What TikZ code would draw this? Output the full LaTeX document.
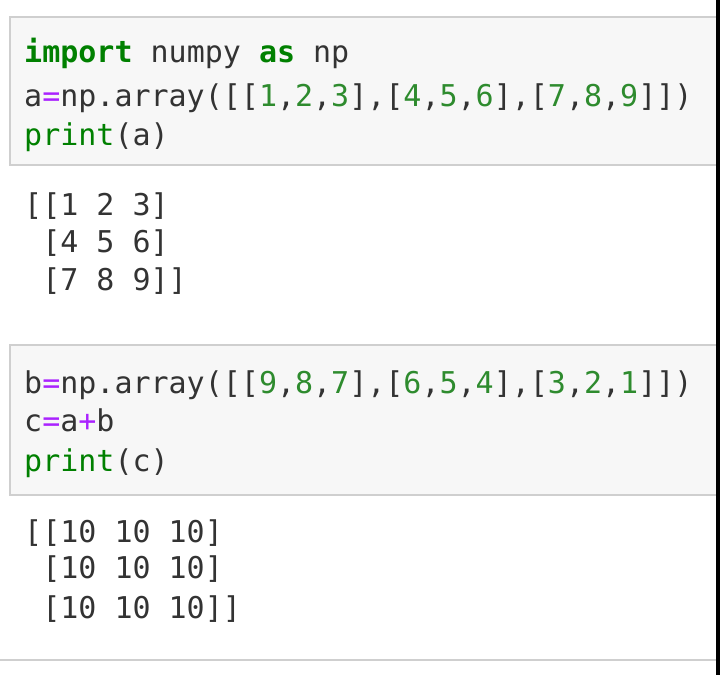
\documentclass[tikz,border=0pt]{standalone}
\usepackage{fontspec}
\setmonofont{DejaVu Sans Mono}
\definecolor{kw}{HTML}{008000}
\definecolor{num}{HTML}{2E8B2E}
\definecolor{op}{HTML}{AA22FF}
\definecolor{txt}{HTML}{333333}
\definecolor{cellbg}{HTML}{F7F7F7}
\definecolor{cellbd}{HTML}{CFCFCF}
\newcommand{\K}[1]{\textcolor{kw}{\bfseries #1}}
\newcommand{\N}[1]{\textcolor{num}{#1}}
\newcommand{\Op}[1]{\textcolor{op}{#1}}
\newcommand{\B}[1]{\textcolor{kw}{#1}}
\begin{document}
\begin{tikzpicture}[x=1pt,y=-1pt,
  code/.style={anchor=base west,inner sep=0pt,font=\ttfamily\fontsize{30}{30}\selectfont,text=txt},
  cell/.style={fill=cellbg,draw=cellbd,line width=1.2pt}]
\useasboundingbox (0,0) rectangle (720,675);
\fill[white] (0,0) rectangle (720,675);
\draw[cell] (10,17) rectangle (717,165);
\draw[cell] (10,345) rectangle (717,495);
\draw[cellbd,line width=1.5pt] (0,660) -- (717,660);
\fill[black] (716,0) rectangle (720,675);
\node[code] (l1) at (24,62) {\K{import} numpy \K{as} np};
\node[code] (l2) at (24,106) {a\Op{=}np.array([[\N{1},\N{2},\N{3}],[\N{4},\N{5},\N{6}],[\N{7},\N{8},\N{9}]])};
\node[code] (l3) at (24,145) {\B{print}(a)};
\node[code] (o1) at (24,215) {[[1 2 3]};
\node[code] (o2) at (24,252) {\ [4 5 6]};
\node[code] (o3) at (24,290) {\ [7 8 9]]};
\node[code] (m1) at (24,393) {b\Op{=}np.array([[\N{9},\N{8},\N{7}],[\N{6},\N{5},\N{4}],[\N{3},\N{2},\N{1}]])};
\node[code] (m2) at (24,431) {c\Op{=}a\Op{+}b};
\node[code] (m3) at (24,471) {\B{print}(c)};
\node[code] (p1) at (24,542) {[[10 10 10]};
\node[code] (p2) at (24,578) {\ [10 10 10]};
\node[code] (p3) at (24,618) {\ [10 10 10]]};
\end{tikzpicture}
\end{document}
